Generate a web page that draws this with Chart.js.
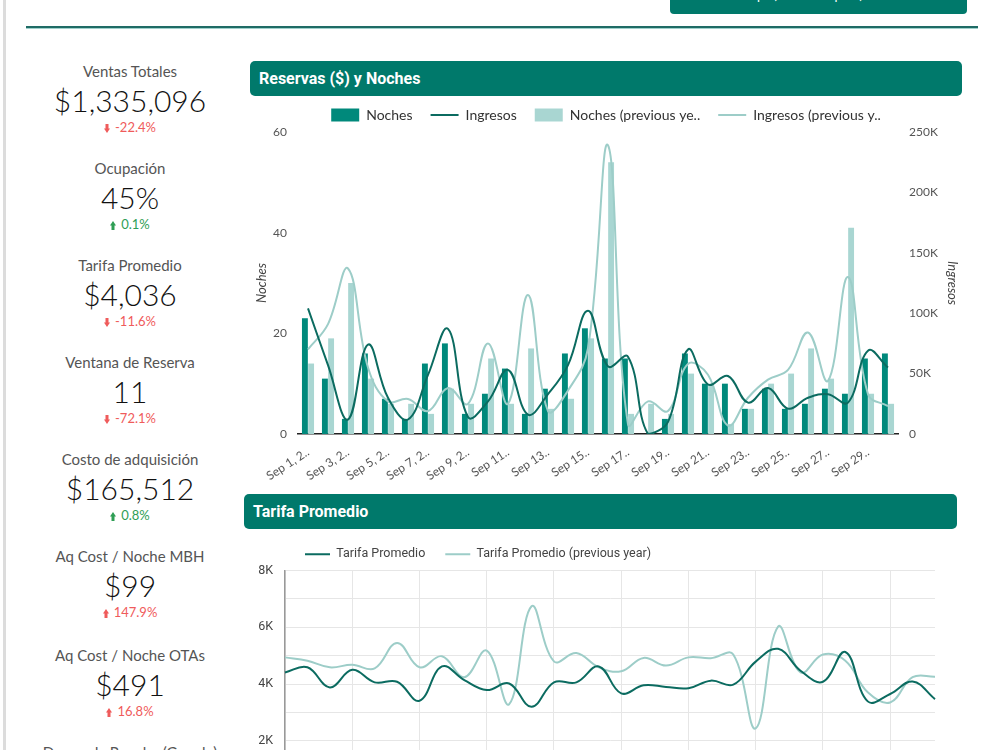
<!DOCTYPE html>
<html><head><meta charset="utf-8">
<script src="https://cdn.jsdelivr.net/npm/chart.js@4.4.0/dist/chart.umd.min.js"></script>
<style>
html,body{margin:0;padding:0;width:1000px;height:750px;overflow:hidden;background:#fff;font-family:Lato,'Open Sans',sans-serif;position:relative}
#leftbar{position:absolute;left:3px;top:0;width:3px;height:750px;background:#dcdcdc}
#topline{position:absolute;left:26px;top:26px;width:952px;height:2px;background:#1f6b65;border-bottom:1px solid #9fd1cc}
#datebox{position:absolute;left:670px;top:-20px;width:297px;height:34px;background:#00796b;border-radius:4px;color:#fff;font:13px Roboto,sans-serif;text-align:center;line-height:30px}
.kl,.kv,.kd{position:absolute;left:20px;width:220px;text-align:center;white-space:nowrap}
.kl{font-size:15px;color:#555;height:20px;line-height:20px}
.kv{font-size:30px;color:#111;font-weight:300;height:34px;line-height:34px}
.kd{font-size:13px;height:16px;line-height:16px}
.hdr{position:absolute;background:#00796b;color:#fff;border-radius:5px;font:bold 16px Roboto,sans-serif;height:35px;line-height:35px;padding-left:9px;box-sizing:border-box}
.cv{position:absolute}
</style>
</head><body>
<div id="leftbar"></div>
<div id="datebox">Sep 1, 2022 - Sep 30, 2022</div>
<div id="topline"></div>
<div id="kpis"></div>
<div class="hdr" style="left:250px;top:61px;width:712px">Reservas ($) y Noches</div>
<div class="cv" style="left:250px;top:90px;width:712px;height:396px"><canvas id="c1"></canvas></div>
<div class="hdr" style="left:244px;top:494px;width:713px">Tarifa Promedio</div>
<div class="cv" style="left:240px;top:528px;width:717px;height:300px"><canvas id="c2"></canvas></div>
<script>
// ---- Data ----
const days = ['Sep 1, 2022','Sep 2, 2022','Sep 3, 2022','Sep 4, 2022','Sep 5, 2022','Sep 6, 2022','Sep 7, 2022','Sep 8, 2022','Sep 9, 2022','Sep 10, 2022',
 'Sep 11, 2022','Sep 12, 2022','Sep 13, 2022','Sep 14, 2022','Sep 15, 2022','Sep 16, 2022','Sep 17, 2022','Sep 18, 2022','Sep 19, 2022','Sep 20, 2022',
 'Sep 21, 2022','Sep 22, 2022','Sep 23, 2022','Sep 24, 2022','Sep 25, 2022','Sep 26, 2022','Sep 27, 2022','Sep 28, 2022','Sep 29, 2022','Sep 30, 2022'];
const nochesCur  = [23,11,3,16,7,3,14,18,4,8,13,4,9,16,21,15,15,0,3,16,10,10,5,9,5,6,9,8,15,16];
const nochesPrev = [14,19,30,11,6,6,4,9,6,15,6,17,5,7,19,54,4,6,4,12,10,2,5,10,12,17,11,41,8,6];
const ingresosCur  = [104000,57000,12000,74000,30000,12000,49000,87000,14000,27000,53000,16000,33000,57000,102000,56000,64000,0,10000,70000,41000,48000,26000,38000,21000,30000,33000,26000,69000,55000];
const ingresosPrev = [70000,91000,137000,55000,27000,29000,19000,38000,25000,75000,25000,115000,19000,36000,71000,239000,8000,27000,19000,58000,49000,7000,30000,45000,53000,84000,44000,130000,33000,23000];
const tarifaCur  = [4410,4590,3880,4500,4060,4080,3410,4620,4140,3790,4020,3200,4060,4060,4620,3670,3960,3900,3850,4120,3980,4790,5240,4470,4080,5130,3390,3650,4090,3470];
const tarifaPrev = [4940,4820,4590,4680,4550,5450,4590,4980,4240,5180,3290,6740,4800,5090,4590,4450,4920,4650,4940,4910,5040,2440,6020,4410,5040,4820,3710,3350,4240,4260];
const kpiLabels = ['Ventas Totales','Ocupación','Tarifa Promedio','Ventana de Reserva','Costo de adquisición','Aq Cost / Noche MBH','Aq Cost / Noche OTAs','Demanda Regular (Google)'];
const kpiValues = ['$1,335,096','45%','$4,036','11','$165,512','$99','$491',''];
const kpiDeltas = ['-22.4%','0.1%','-11.6%','-72.1%','0.8%','147.9%','16.8%',''];
const kpiDir    = ['down','up','down','down','up','up','up',''];
const kpiGood   = [false,true,false,false,true,false,false,true];

// ---- KPIs ----
const kpiTops = [71,168,265,362,459,556,655,752];
const kd = document.getElementById('kpis');
kpiLabels.forEach((l,i)=>{
  const b = kpiTops[i];
  let h = `<div class="kl" style="top:${b-10}px">${l}</div>`;
  if (kpiValues[i]) h += `<div class="kv" style="top:${b+12}px">${kpiValues[i]}</div>`;
  if (kpiDeltas[i]) {
    const col = kpiGood[i] ? '#2f9e55' : '#ef5b5b';
    const arrow = kpiDir[i]==='down'
      ? `<svg width="6" height="9" viewBox="0 0 6 9" style="vertical-align:-1px;margin-right:5px"><rect x="1.5" y="0" width="3" height="5" fill="${col}"/><polygon points="0,4.5 6,4.5 3,9" fill="${col}"/></svg>`
      : `<svg width="6" height="9" viewBox="0 0 6 9" style="vertical-align:-1px;margin-right:5px"><rect x="1.5" y="4" width="3" height="5" fill="${col}"/><polygon points="0,4.5 6,4.5 3,0" fill="${col}"/></svg>`;
    h += `<div class="kd" style="top:${b+48}px;color:${col}">${arrow}${kpiDeltas[i]}</div>`;
  }
  kd.insertAdjacentHTML('beforeend', h);
});

// ---- Colors ----
const cBar = '#00897b', cBarPrev = '#a9d6d2', cLine = '#0b6b60', cLinePrev = '#9dcdc8';
const trunc = s => { let t = s.slice(0,8).replace(/,?\s*$/,''); return t + '..'; };
const shortLegend = (s,n) => s.length > n ? s.slice(0,n) + '..' : s;

// ---- Chart 1 ----
new Chart(document.getElementById('c1'), {
  data: {
    labels: days,
    datasets: [
      {type:'bar', label:'Noches', data:nochesCur, backgroundColor:cBar, yAxisID:'y', order:2, categoryPercentage:0.62, barPercentage:0.95},
      {type:'line', label:'Ingresos', data:ingresosCur, borderColor:cLine, backgroundColor:cLine, borderWidth:2, pointRadius:0, tension:0.4, yAxisID:'y1', order:0},
      {type:'bar', label:'Noches (previous year)', data:nochesPrev, backgroundColor:cBarPrev, yAxisID:'y', order:3, categoryPercentage:0.62, barPercentage:0.95},
      {type:'line', label:'Ingresos (previous year)', data:ingresosPrev, borderColor:cLinePrev, backgroundColor:cLinePrev, borderWidth:2, pointRadius:0, tension:0.4, yAxisID:'y1', order:1}
    ]
  },
  options: {
    responsive:true, maintainAspectRatio:false, animation:false,
    layout:{padding:{top:0,bottom:0,left:0,right:0}},
    plugins:{
      tooltip:{enabled:false},
      legend:{
        labels:{
          usePointStyle:true, pointStyleWidth:28, boxHeight:13, padding:18, color:'#333',
          font:{family:'Lato, sans-serif', size:14},
          sort:(a,b)=> a.datasetIndex - b.datasetIndex,
          generateLabels(chart){
            const items = Chart.defaults.plugins.legend.labels.generateLabels(chart);
            return items.map(it=>{
              const ds = chart.data.datasets[it.datasetIndex];
              it.pointStyle = ds.type==='bar' ? 'rect' : 'line';
              it.text = shortLegend(ds.label, ds.type==='bar' ? 19 : 20);
              if (ds.type==='line') { it.lineWidth = 2; it.strokeStyle = ds.borderColor; }
              return it;
            });
          }
        }
      }
    },
    scales:{
      x:{
        grid:{display:false}, border:{display:true,color:'#222',width:1.5},
        ticks:{autoSkip:false, maxRotation:33, minRotation:33, color:'#555', font:{family:'Lato, sans-serif', size:12},
          callback(v,i){ return i%2===0 ? trunc(days[i]) : null; }},
        afterFit(s){ s.height = 52; }
      },
      y:{position:'left', min:0, max:60, grid:{display:false}, border:{display:false},
        ticks:{stepSize:20, color:'#555', font:{family:'Lato, sans-serif', size:12}},
        title:{display:true, text:'Noches', color:'#444', font:{family:'Lato, sans-serif', size:13, style:'italic'}, padding:4},
        afterFit(s){ s.width = 48; }},
      y1:{position:'right', min:0, max:250000, grid:{display:false}, border:{display:false},
        ticks:{stepSize:50000, color:'#555', font:{family:'Lato, sans-serif', size:12}, callback:v=> v===0?'0':(v/1000)+'K'},
        title:{display:true, text:'Ingresos', color:'#444', font:{family:'Lato, sans-serif', size:13, style:'italic'}, padding:2},
        afterFit(s){ s.width = 64; }}
    }
  }
});

// ---- Chart 2 ----
new Chart(document.getElementById('c2'), {
  type:'line',
  data:{
    labels: days,
    datasets:[
      {label:'Tarifa Promedio', data:tarifaCur, borderColor:cLine, backgroundColor:cLine, borderWidth:2, pointRadius:0, tension:0.4},
      {label:'Tarifa Promedio (previous year)', data:tarifaPrev, borderColor:cLinePrev, backgroundColor:cLinePrev, borderWidth:2, pointRadius:0, tension:0.4}
    ]
  },
  options:{
    responsive:true, maintainAspectRatio:false, animation:false,
    layout:{padding:{right:22}},
    plugins:{
      tooltip:{enabled:false},
      legend:{
        fullSize:false, align:'start',
        labels:{usePointStyle:true, pointStyle:'line', pointStyleWidth:25, boxHeight:12, padding:20, color:'#444',
          font:{family:'Roboto, sans-serif', size:12.5}}
      }
    },
    scales:{
      x:{
        grid:{color:'#e6e6e6', drawTicks:false},
        border:{display:false},
        ticks:{color:'#555', font:{family:'Roboto, sans-serif', size:12}, maxRotation:0, autoSkip:false,
          callback(v,i){ return i%3===0 ? days[i].replace(', 2022','') : null; }, padding:8}
      },
      y:{min:0, max:8000, border:{display:true,color:'#999',width:1.5},
        grid:{color:'#e6e6e6', drawTicks:false},
        ticks:{stepSize:1000, color:'#444', padding:12, font:{family:'Roboto, sans-serif', size:12.5},
          callback:v=> (v%2000===0) ? (v/1000)+'K' : ''},
        afterFit(s){ s.width = 45; }}
    }
  }
});
</script>
</body></html>
